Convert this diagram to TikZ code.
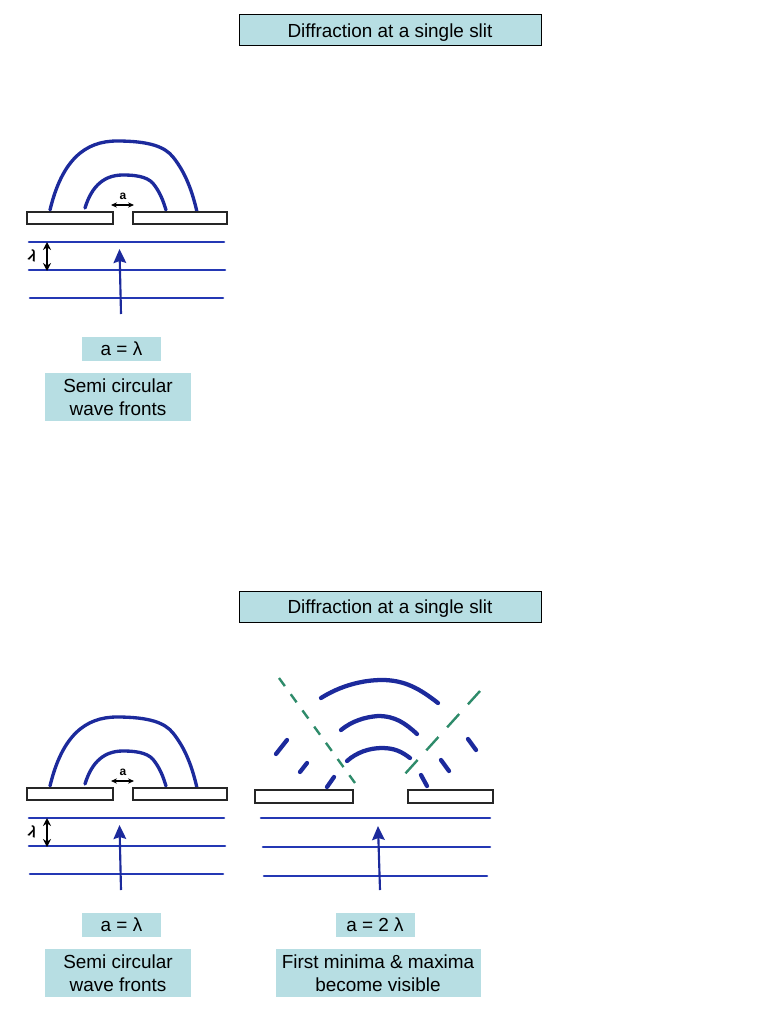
\documentclass[tikz,border=0pt]{standalone}
\usepackage{fontspec}
\setmainfont{Liberation Sans}
\usetikzlibrary{arrows.meta}

\definecolor{boxblue}{HTML}{B7DEE3}
\definecolor{wavelineblue}{HTML}{2438B4}
\definecolor{frontblue}{HTML}{1C2A9C}
\definecolor{mingreen}{HTML}{2E8B6A}

\tikzset{
  labelbox/.style={fill=boxblue,inner sep=0pt,align=center,font=\fontsize{14.2}{17.5}\selectfont},
  titlebox/.style={labelbox,draw=black,line width=0.75pt,minimum width=226.5pt,minimum height=23.25pt,text depth=0pt},
  wall/.style={draw=black!85,fill=white,line width=1pt},
  waveline/.style={wavelineblue,line width=1.9pt,line cap=round},
  front/.style={frontblue,line width=2.5pt,line cap=round},
  blob/.style={frontblue,line width=3.2pt,line cap=round},
  minline/.style={mingreen,line width=1.8pt},
  rayarrow/.style={-{Stealth[length=10.5pt,width=9.5pt,inset=1.5pt]},frontblue,line width=1.6pt},
  gaparrow/.style={{Stealth[length=4.5pt,width=4pt]}-{Stealth[length=4.5pt,width=4pt]},black,line width=0.8pt},
  wavearrow/.style={{Stealth[length=6pt,width=6pt]}-{Stealth[length=6pt,width=6pt]},black,line width=1.1pt}
}

\begin{document}
\begin{tikzpicture}[x=0.75pt,y=-0.75pt]

      \useasboundingbox (0,0) rectangle (768,1024);

      % draw the panel that stands on both slides
      \foreach \y in {0,576} {
      \begin{scope}[shift={(0,\y)}]

      % draw title
      \node[titlebox] (title\y) at (390,30.5) {Diffraction at a single slit};

      % draw wave fronts
      \draw[front] (50,210) .. controls (62,160) and (85,141) .. (117,141) .. controls (150,141) and (165,147) .. (173,157) .. controls (185,172) and (192,190) .. (197,212);
      \draw[front] (85,208) .. controls (92,185) and (105,175) .. (123,175) .. controls (140,175) and (150,178) .. (155,186) .. controls (160,193) and (163,200) .. (166,210);

      % draw slit
      \draw[wall] (27,212) rectangle (113,224);
      \draw[wall] (133,212) rectangle (227,224);

      % draw horizontal lines
      \draw[waveline] (29,242) -- (224,242);
      \draw[waveline] (29,270) -- (225,270);
      \draw[waveline] (30,298) -- (223,298);

      % draw arrows
      \coordinate (gapl\y) at (111,205);
      \coordinate (gapr\y) at (134,205);
      \coordinate (wavet\y) at (47,242);
      \coordinate (waveb\y) at (47,271);
      \coordinate (rays\y) at (121,314);
      \coordinate (rayt\y) at (119.5,249);
      \draw[gaparrow] (gapl\y) -- (gapr\y);
      \draw[wavearrow] (wavet\y) -- (waveb\y);
      \draw[rayarrow] (rays\y) -- (rayt\y);
      \node[font=\fontsize{9}{9}\selectfont\bfseries,inner sep=0pt] (gaplabel\y) at (123,196) {a};
      \node[font=\fontsize{11}{11}\selectfont\bfseries,inner sep=0pt,rotate=-20] (wavelabel\y) at (33,256) {λ};

      % draw labels
      \node[labelbox,minimum width=59.25pt,minimum height=18pt] (ratio\y) at (121.5,349) {a = λ};
      \node[labelbox,minimum width=109.5pt,minimum height=36pt] (note\y) at (118,397) {Semi circular\\ wave fronts};

      \end{scope}
      }

      % draw wave fronts of the wide slit
      \draw[blob] (321,698) .. controls (340,686) and (362,680) .. (382,680) .. controls (405,680) and (420,689) .. (438,703);
      \draw[blob] (341,730) .. controls (352,721) and (365,717) .. (378,716) .. controls (395,716) and (405,723) .. (417,734);
      \draw[blob] (347,761) .. controls (357,752) and (370,748) .. (382,748) .. controls (395,748) and (402,752) .. (410,758);

      % draw side maxima
      \foreach \xa/\ya/\xb/\yb in {287/740/276/754,307/763/300/772,334/777/327/787,421/775/427/786,441/760/449/771,468/739/476/750}
      \draw[blob] (\xa,\ya) -- (\xb,\yb);

      % draw minima directions
      \draw[minline,dash pattern=on 7.5pt off 7.5pt] (279,678) -- (355,783);
      \draw[minline,dash pattern=on 13.5pt off 9.75pt] (480,691) -- (404,775);

      % draw slit
      \draw[wall] (255,790) rectangle (353,803);
      \draw[wall] (408,790) rectangle (493,803);

      % draw horizontal lines
      \draw[waveline] (261,818) -- (490,818);
      \draw[waveline] (263,847) -- (490,847);
      \draw[waveline] (264,876) -- (487,876);

      % draw arrow
      \coordinate (rays) at (380,890);
      \coordinate (rayt) at (378,826);
      \draw[rayarrow] (rays) -- (rayt);

      % draw labels
      \node[labelbox,minimum width=59.25pt,minimum height=18pt] (ratiowide) at (375,925) {a = 2 λ};
      \node[labelbox,minimum width=153.75pt,minimum height=36pt] (notewide) at (378,973) {First minima \& maxima\\ become visible};

     \end{tikzpicture}
\end{document}
